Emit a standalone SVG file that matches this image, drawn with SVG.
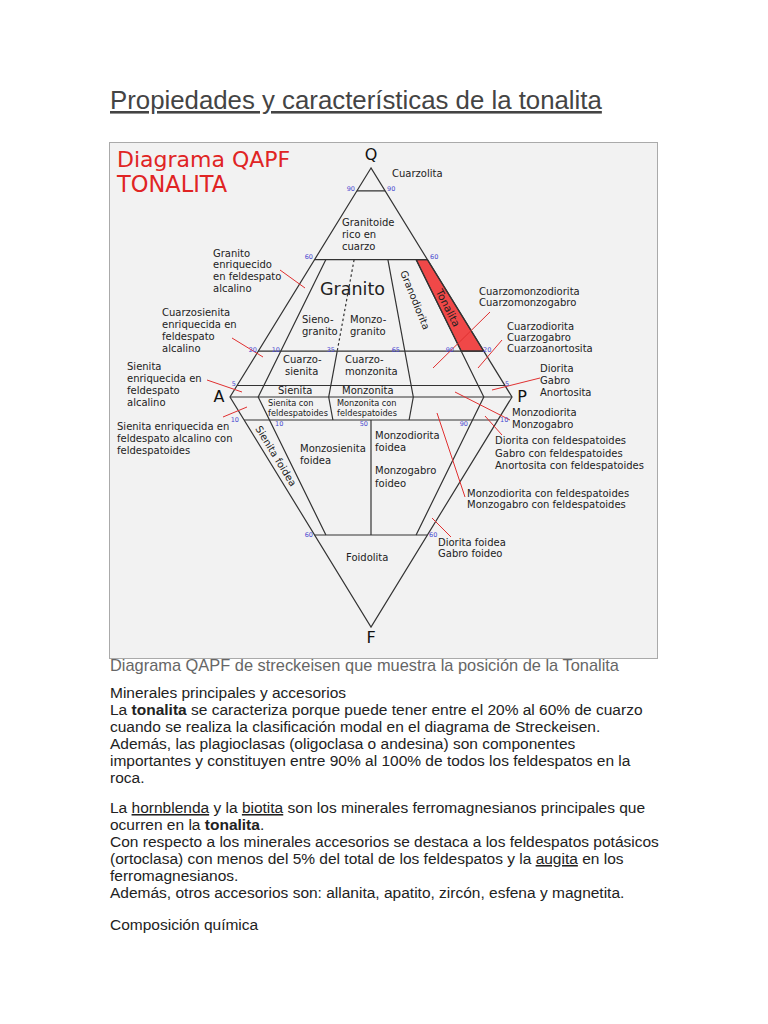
<svg xmlns="http://www.w3.org/2000/svg" width="768" height="1024" viewBox="0 0 768 1024">
<style>
.ln{stroke:#333;stroke-width:1.2;fill:none}
.rd{stroke:#e03030;stroke-width:1;fill:none}
.lb{font-family:"DejaVu Sans",Verdana,sans-serif;font-size:10px;fill:#222}
.sm{font-family:"DejaVu Sans",Verdana,sans-serif;font-size:8.2px;fill:#222}
.nb{font-family:"DejaVu Sans",Verdana,sans-serif;font-size:6.5px;fill:#4848d0}
.vx{font-family:"DejaVu Sans",Verdana,sans-serif;font-size:16px;fill:#111;text-anchor:middle}
.body{font-family:"Liberation Sans",Arial,sans-serif;font-size:15.5px;fill:#222}
</style>
<rect width="768" height="1024" fill="#fff"/>
<text x="110" y="109" font-family="'Liberation Sans',Arial,sans-serif" font-size="25.8" fill="#444" text-decoration="underline">Propiedades y características de la tonalita</text>

<g id="frame"><rect x="109.5" y="142.5" width="548" height="516" fill="#f2f2f2" stroke="#aaa" stroke-width="1"/></g>

<g id="heading">
<text x="117" y="167" font-family="'DejaVu Sans',Verdana,sans-serif" font-size="22" fill="#e02424">Diagrama QAPF</text>
<text x="117" y="192" font-family="'DejaVu Sans',Verdana,sans-serif" font-size="22.5" fill="#e02424">TONALITA</text>
</g>

<g id="tonalita-field"><polygon points="416.1,259.6 427.4,259.6 483.8,351.2 461.2,351.2" fill="#f04848" stroke="#333" stroke-width="1.2"/></g>

<g id="connectors">
<path class="ln" d="M371,168 L230,397 L371,627 L512,397 Z"/>
<path class="ln" d="M356.9,190.9 H385.1 M314.6,259.6 H427.4 M258.2,351.2 H483.8 M237,385.5 H505 M230,397 H512 M244.1,420 H497.9 M314.6,535 H427.4"/>
<path class="ln" d="M325.9,259.6 L258.2,397 L325.9,535"/>
<path class="ln" d="M354.1,259.6 L337.2,351.2" stroke-dasharray="2.5,2.5"/>
<path class="ln" d="M337.2,351.2 L328.7,397 L332.9,420"/>
<path class="ln" d="M387.9,259.6 L413.3,397 L409.1,420"/>
<path class="ln" d="M416.1,259.6 L483.8,397 L416.1,535"/>
<path class="ln" d="M371,420 V535"/>
<g class="rd">
<line x1="280" y1="270" x2="305" y2="288"/>
<line x1="232" y1="338" x2="263" y2="357"/>
<line x1="207" y1="380" x2="242" y2="392"/>
<line x1="223" y1="417" x2="247" y2="407"/>
<line x1="490" y1="312" x2="433" y2="368"/>
<line x1="502" y1="340" x2="478" y2="368"/>
<line x1="540" y1="378" x2="492" y2="390"/>
<line x1="510" y1="420" x2="455" y2="392"/>
<line x1="485" y1="416" x2="502" y2="435"/>
<line x1="437" y1="413" x2="465" y2="497"/>
<line x1="432" y1="518" x2="451" y2="537"/>
</g>
</g>

<g id="numbers" class="nb">
<text x="355" y="191" text-anchor="end">90</text>
<text x="387" y="191">90</text>
<text x="313" y="259" text-anchor="end">60</text>
<text x="430" y="259">60</text>
<text x="257" y="352" text-anchor="end">20</text>
<text x="280" y="352" text-anchor="end">10</text>
<text x="335" y="352" text-anchor="end">35</text>
<text x="400" y="352" text-anchor="end">65</text>
<text x="454" y="352" text-anchor="end">90</text>
<text x="483" y="352">20</text>
<text x="236" y="386" text-anchor="end">5</text>
<text x="505" y="386">5</text>
<text x="239" y="422" text-anchor="end">10</text>
<text x="275" y="426">10</text>
<text x="368" y="426" text-anchor="end">50</text>
<text x="468" y="426" text-anchor="end">90</text>
<text x="500" y="422">10</text>
<text x="313" y="537" text-anchor="end">60</text>
<text x="429" y="537">60</text>
</g>

<g id="vertices">
<text class="vx" x="371" y="160">Q</text>
<text class="vx" x="219" y="402">A</text>
<text class="vx" x="522" y="402">P</text>
<text class="vx" x="371" y="643">F</text>
</g>

<g id="fields" class="lb">
<text x="392" y="177">Cuarzolita</text>
<text x="342" y="226">Granitoide</text>
<text x="342" y="238">rico en</text>
<text x="342" y="250">cuarzo</text>
<text x="320" y="295" font-size="17.5">Granito</text>
<text x="302" y="323">Sieno-</text>
<text x="302" y="335">granito</text>
<text x="350" y="323">Monzo-</text>
<text x="350" y="335">granito</text>
<text transform="translate(415,300) rotate(68)" y="3.5" text-anchor="middle">Granodiorita</text>
<text transform="translate(448,308) rotate(63)" y="3.7" text-anchor="middle" font-size="10.5">Tonalita</text>
<text x="283" y="363">Cuarzo-</text>
<text x="285" y="375">sienita</text>
<text x="345" y="363">Cuarzo-</text>
<text x="345" y="375">monzonita</text>
<text x="278" y="394">Sienita</text>
<text x="342" y="394">Monzonita</text>
<text class="sm" x="268" y="406">Sienita con</text>
<text class="sm" x="268" y="416">feldespatoides</text>
<text class="sm" x="337" y="406">Monzonita con</text>
<text class="sm" x="337" y="416">feldespatoides</text>
<text transform="translate(276,456) rotate(58.5)" y="3.5" text-anchor="middle">Sienita foidea</text>
<text x="300" y="452">Monzosienita</text>
<text x="300" y="464">foidea</text>
<text x="375" y="439">Monzodiorita</text>
<text x="375" y="451">foidea</text>
<text x="375" y="474">Monzogabro</text>
<text x="375" y="487">foideo</text>
<text x="346" y="561">Foidolita</text>
</g>

<g id="labels-left" class="lb">
<text x="213" y="257">Granito</text>
<text x="213" y="268">enriquecido</text>
<text x="213" y="280">en feldespato</text>
<text x="213" y="292">alcalino</text>
<text x="162" y="316">Cuarzosienita</text>
<text x="162" y="328">enriquecida en</text>
<text x="162" y="340">feldespato</text>
<text x="162" y="352">alcalino</text>
<text x="127" y="370">Sienita</text>
<text x="127" y="382">enriquecida en</text>
<text x="127" y="394">feldespato</text>
<text x="127" y="406">alcalino</text>
<text x="117" y="430">Sienita enriquecida en</text>
<text x="117" y="442">feldespato alcalino con</text>
<text x="117" y="454">feldespatoides</text>
</g>

<g id="labels-right" class="lb">
<text x="479" y="295">Cuarzomonzodiorita</text>
<text x="479" y="306">Cuarzomonzogabro</text>
<text x="507" y="330">Cuarzodiorita</text>
<text x="507" y="341">Cuarzogabro</text>
<text x="507" y="352">Cuarzoanortosita</text>
<text x="540" y="372">Diorita</text>
<text x="540" y="384">Gabro</text>
<text x="540" y="396">Anortosita</text>
<text x="512" y="416">Monzodiorita</text>
<text x="512" y="428">Monzogabro</text>
<text x="495" y="444">Diorita con feldespatoides</text>
<text x="495" y="457">Gabro con feldespatoides</text>
<text x="495" y="469">Anortosita con feldespatoides</text>
<text x="467" y="497">Monzodiorita con feldespatoides</text>
<text x="467" y="508">Monzogabro con feldespatoides</text>
<text x="438" y="546">Diorita foidea</text>
<text x="438" y="557">Gabro foideo</text>
</g>

<g id="text-body" class="body">
<text x="110" y="671" fill="#666" font-size="16.4">Diagrama QAPF de streckeisen que muestra la posición de la Tonalita</text>
<text x="110" y="698">Minerales principales y accesorios</text>
<text x="110" y="715">La <tspan font-weight="bold">tonalita</tspan> se caracteriza porque puede tener entre el 20% al 60% de cuarzo</text>
<text x="110" y="732">cuando se realiza la clasificación modal en el diagrama de Streckeisen.</text>
<text x="110" y="749">Además, las plagioclasas (oligoclasa o andesina) son componentes</text>
<text x="110" y="766">importantes y constituyen entre 90% al 100% de todos los feldespatos en la</text>
<text x="110" y="783">roca.</text>
<text x="110" y="813">La <tspan text-decoration="underline">hornblenda</tspan> y la <tspan text-decoration="underline">biotita</tspan> son los minerales ferromagnesianos principales que</text>
<text x="110" y="830">ocurren en la <tspan font-weight="bold">tonalita</tspan>.</text>
<text x="110" y="847">Con respecto a los minerales accesorios se destaca a los feldespatos potásicos</text>
<text x="110" y="864">(ortoclasa) con menos del 5% del total de los feldespatos y la <tspan text-decoration="underline">augita</tspan> en los</text>
<text x="110" y="881">ferromagnesianos.</text>
<text x="110" y="898">Además, otros accesorios son: allanita, apatito, zircón, esfena y magnetita.</text>
<text x="110" y="930">Composición química</text>
</g>
</svg>
